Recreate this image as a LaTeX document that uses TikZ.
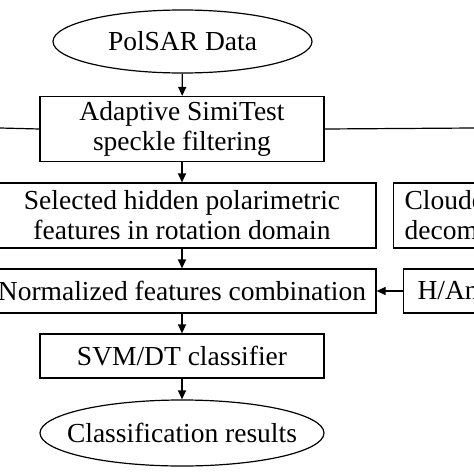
\documentclass[tikz,border=0pt]{standalone}
\usepackage{fontspec}
\setmainfont{Liberation Serif}
\usetikzlibrary{arrows.meta, shapes.geometric, positioning}

\begin{document}
\begin{tikzpicture}[x=1pt, y=-1pt, >={Triangle[length=9pt,width=8pt]},
    line width=1.2pt,
    every node/.style={font=\fontsize{27.5}{30}\selectfont, inner sep=0pt},
    stepbox/.style={draw, rectangle, align=center},
    termbox/.style={rectangle, align=center}]
  % page frame
  \clip (0,0) rectangle (474,474);
  % main chain
  \node[termbox, minimum width=259pt, minimum height=63pt] (data) at (182.5,41.5) {PolSAR Data};
  \node[stepbox, minimum width=284pt, minimum height=65pt] (filter) at (182,129)
    {Adaptive SimiTest\\speckle filtering};
  \node[stepbox, minimum width=388pt, minimum height=65pt] (hidden) at (182,215.5)
    {Selected hidden polarimetric\\features in rotation domain};
  \node[stepbox, minimum width=388pt, minimum height=44pt] (norm) at (182,291)
    {Normalized features combination};
  \node[stepbox, minimum width=284pt, minimum height=44pt] (svm) at (182,356)
    {SVM/DT classifier};
  \node[termbox, minimum width=284pt, minimum height=66pt] (result) at (182,433)
    {Classification results};
  % outlines of start and end
  \draw (data.center) ellipse [x radius=129.5pt, y radius=31.5pt];
  \draw (result.center) ellipse [x radius=142pt, y radius=33pt];
  % right branch (cut by the frame)
  \node[draw, anchor=west, align=left, text width=120pt, inner xsep=11pt,
    minimum height=65pt] (cloude) at (393,215.5) {Cloude\\decom};
  \node[draw, anchor=west, align=left, text width=120pt, inner xsep=14pt,
    minimum height=44pt] (ham) at (403,291) {H/An};
  % side lines
  \coordinate (leftend) at (0,128);
  \coordinate (rightend) at (474,128);
  \draw (filter.west) -- (leftend);
  \draw (filter.east) -- (rightend);
  % arrows
  \draw[->] (data) -- (filter);
  \draw[->] (filter) -- (hidden);
  \draw[->] (hidden) -- (norm);
  \draw[->] (norm) -- (svm);
  \draw[->] (svm) -- (result);
  \draw[->] (ham) -- (norm);
\end{tikzpicture}
\end{document}
